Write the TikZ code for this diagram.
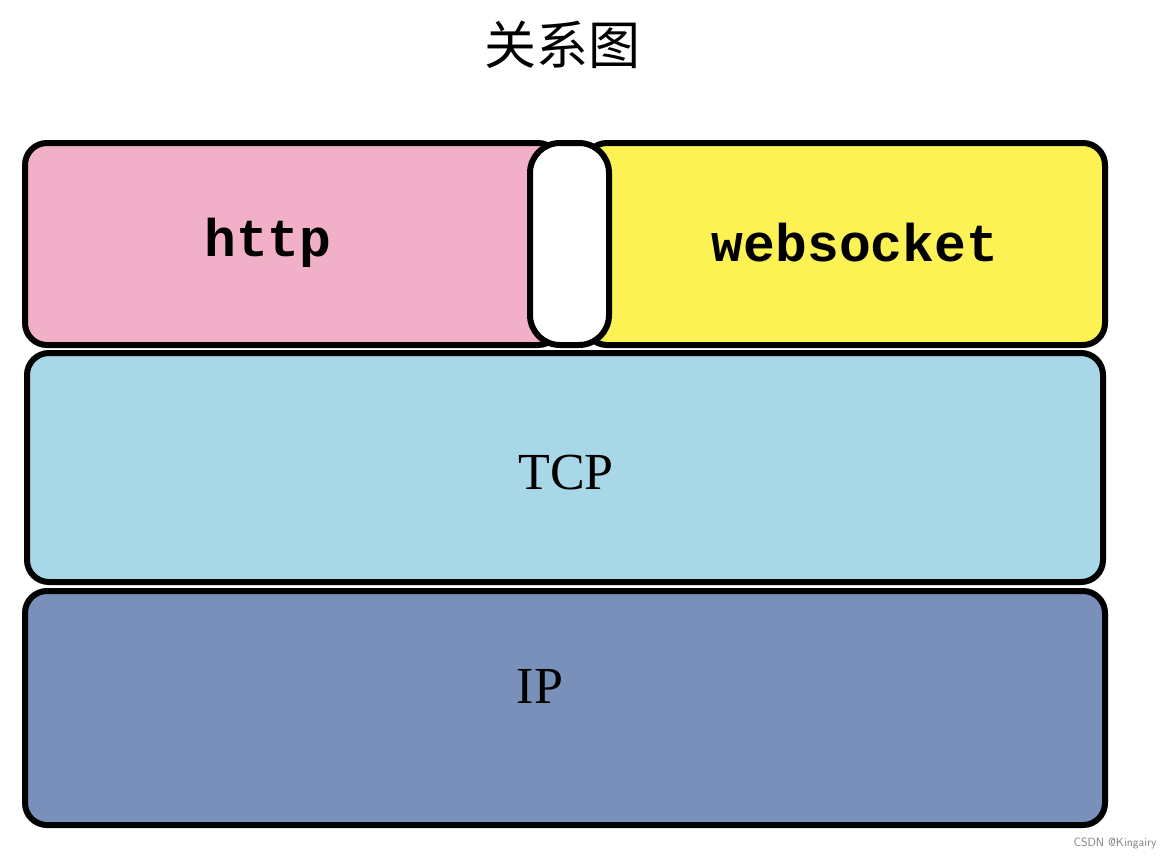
\documentclass[tikz,border=0pt]{standalone}
\usepackage{fontspec}
\setmainfont{Liberation Serif}
\newfontfamily\cjk{Noto Sans CJK SC}
\newfontfamily\monof{Liberation Mono}
\definecolor{pinkc}{HTML}{F2B0C8}
\definecolor{yellowc}{HTML}{FDF254}
\definecolor{tcpc}{HTML}{A8D8E8}
\definecolor{ipc}{HTML}{7890BA}
\begin{document}
\begin{tikzpicture}[x=1pt,y=-1pt,
  layer/.style={draw=black,line width=6pt,rounded corners=22pt}]
\useasboundingbox (0,0) rectangle (1172,860);
\fill[white] (0,0) rectangle (1172,860);
\node[font=\cjk\fontsize{52}{58}\selectfont] (title) at (562,45) {关系图};
\draw[layer,fill=pinkc] (25,143) rectangle (560,345);
\draw[layer,fill=yellowc] (585,143) rectangle (1105,345);
\draw[layer,fill=white,rounded corners=30pt] (530,143) rectangle (609,345);
\draw[layer,fill=tcpc] (27,353) rectangle (1103,582);
\draw[layer,fill=ipc] (25,591) rectangle (1105,825);
\node[font=\monof\bfseries\fontsize{53}{56}\selectfont] (http) at (268,243) {http};
\node[font=\monof\bfseries\fontsize{53}{56}\selectfont] (ws) at (855,243) {websocket};
\node[font=\fontsize{52}{56}\selectfont] (tcp) at (566,473) {TCP};
\node[font=\fontsize{52}{56}\selectfont] (ip) at (540,686) {IP};
\node[font=\sffamily\fontsize{12}{14}\selectfont,text=gray,anchor=east] (wm) at (1160,843) {CSDN @Kingairy};
\end{tikzpicture}
\end{document}
